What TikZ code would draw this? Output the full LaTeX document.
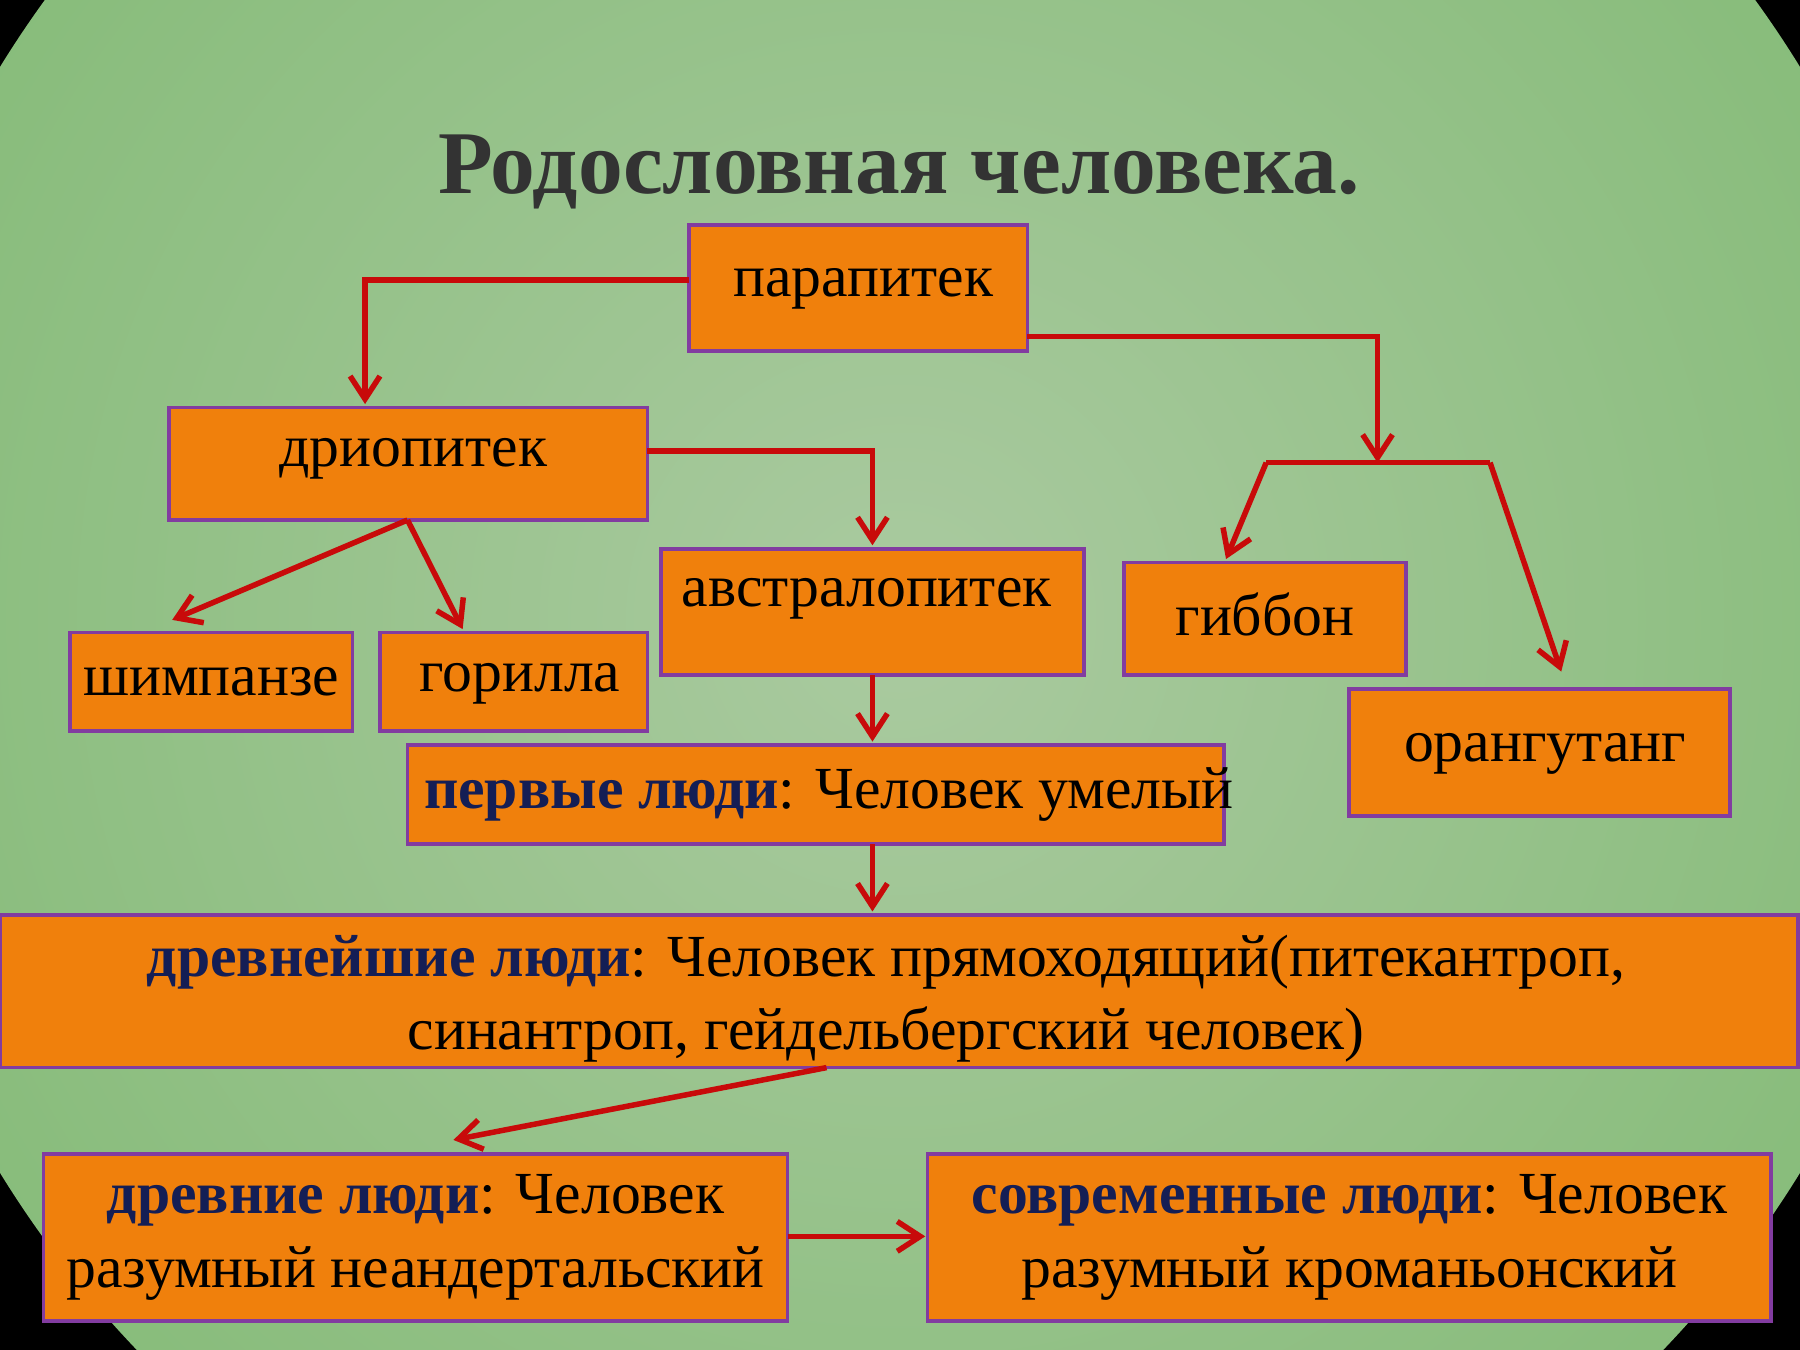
\documentclass[tikz,border=0pt]{standalone}
\usepackage{fontspec}
\setmainfont{Liberation Serif}
\usetikzlibrary{arrows.meta}
\definecolor{bx}{RGB}{240,128,12}
\definecolor{bd}{RGB}{130,60,160}
\definecolor{ar}{RGB}{200,10,10}
\definecolor{nv}{RGB}{20,30,85}
\definecolor{gc}{RGB}{170,202,160}
\definecolor{gm}{RGB}{135,188,122}
\definecolor{gd}{RGB}{80,120,70}
\pgfdeclareradialshading{bgsh}{\pgfpoint{0bp}{0bp}}{color(0bp)=(gc); color(26bp)=(gm); color(35bp)=(gm); color(42bp)=(gd); color(49bp)=(black); color(50bp)=(black)}
\begin{document}
\begin{tikzpicture}[x=0.5pt,y=-0.5pt,
  box/.style={draw=bd,fill=bx,line width=1.6pt},
  lab/.style={font=\fontsize{26}{32}\selectfont,align=center},
  arr/.style={draw=ar,line width=2.4pt,-{Straight Barb[length=10pt,width=13pt,line width=2.4pt]}},
  ln/.style={draw=ar,line width=2.4pt}]
\useasboundingbox (0,0) rectangle (1568,1176);
\begin{scope}
\clip (0,0) rectangle (1568,1176);
\fill[black] (0,0) rectangle (1568,1176);
\shade[shading=bgsh] (784,540) circle (920);
\end{scope}
\node[font=\bfseries\fontsize{39}{44}\selectfont,text=black!80] (t) at (783,150) {Родословная человека.};
\draw[box] (600,196) rectangle (895,306) node[lab] (p) at (752,252) {парапитек};
\draw[box] (147,355) rectangle (564,453) node[lab] (d) at (360,400) {дриопитек};
\draw[box] (61,551) rectangle (307,637) node[midway,lab] (sh) {шимпанзе};
\draw[box] (331,551) rectangle (564,637) node[lab] (g) at (453,596) {горилла};
\draw[box] (576,478) rectangle (944,588) node[lab] (a) at (755,522) {австралопитек};
\draw[box] (979,490) rectangle (1225,588) node[lab] (gb) at (1102,535) {гиббон};
\draw[box] (1175,600) rectangle (1507,711) node[lab] (o) at (1346,657) {орангутанг};
\draw[box] (355,649) rectangle (1066,735) node[lab] (f) at (722,692) {\textcolor{nv}{\bfseries первые люди}: Человек умелый};
\draw[box] (0,797) rectangle (1566,930) node[lab] (dn) at (772,870) {\textcolor{nv}{\bfseries древнейшие люди}: Человек прямоходящий(питекантроп,\\синантроп, гейдельбергский человек)};
\draw[box] (38,1005) rectangle (686,1151) node[midway,lab] (dr) {\textcolor{nv}{\bfseries древние люди}: Человек\\разумный неандертальский};
\draw[box] (808,1005) rectangle (1543,1151) node[midway,lab] (s) {\textcolor{nv}{\bfseries современные люди}: Человек\\разумный кроманьонский};
\coordinate (c1) at (318,244); \coordinate (c2) at (318,352);
\draw[arr] (600,244) -- (c1) -- (c2);
\coordinate (c3) at (1200,293); \coordinate (c4) at (1200,403);
\draw[arr] (895,293) -- (c3) -- (c4);
\coordinate (c5) at (1103,403); \coordinate (c6) at (1298,403);
\draw[ln] (c5) -- (c6);
\draw[arr] (c5) -- (1068,487);
\draw[arr] (c6) -- (1360,585);
\coordinate (c7) at (760,393);
\draw[arr] (564,393) -- (c7) -- (760,475);
\coordinate (c8) at (355,453);
\draw[arr] (c8) -- (150,540);
\draw[arr] (c8) -- (403,548);
\draw[arr] (760,588) -- (760,646);
\draw[arr] (760,735) -- (760,794);
\draw[arr] (720,930) -- (395,993);
\draw[arr] (686,1077) -- (806,1077);
\end{tikzpicture}
\end{document}
